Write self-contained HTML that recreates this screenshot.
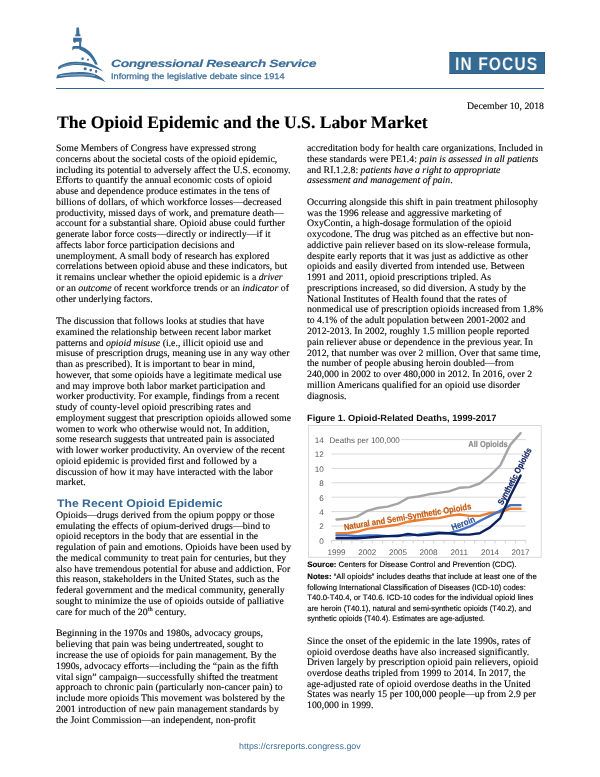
<!DOCTYPE html>
<html><head><meta charset="utf-8">
<style>
*{margin:0;padding:0;box-sizing:border-box}
html,body{width:600px;height:777px;background:#fff;overflow:hidden}
body{position:relative;font-family:"Liberation Serif",serif;color:#111;text-rendering:geometricPrecision}
.a{position:absolute;white-space:nowrap;will-change:transform}
.t{font-size:9.8px;line-height:10.75px;color:#000;-webkit-text-stroke:0.12px #000}
.blue{color:#3b6e9b}
i{font-style:italic}
.sans{font-family:"Liberation Sans",sans-serif}
.ax{font-family:"Liberation Sans",sans-serif;font-size:8.1px;fill:#595959}
.nt{font-family:"Liberation Sans",sans-serif;font-size:7.8px;fill:#000;stroke:#000;stroke-width:0.12px}
.lb{font-family:"Liberation Sans",sans-serif;font-size:8.6px;font-weight:bold;stroke-width:0.2px}
</style></head><body>

<!-- logo -->
<svg class="a" style="left:0;top:0" width="120" height="90" viewBox="0 0 120 90">
<g fill="#3b6e9b">
<path d="M76.5,27.6 L78.9,27.4 L79.3,31 L79.5,34.2 L80.5,34.6 L80.4,36.3 L75.2,36.3 L75.3,34.6 L76.2,34.2 L76.3,31 Z"/>
<path d="M73.1,37.7 L81.7,37.7 L81.7,41.7 L75.9,41.7 L75.5,42.7 L74,42.7 L73.9,41.7 L73.1,41.7 Z"/>
<path d="M79.2,41.5 L81.1,41.5 L81.1,46.4 L79.1,46.4 Z"/>
<path d="M72.2,50.5 L72.3,47.2 Q72.6,46 74,46 L81,46 L81.5,48.8 L74.5,48.8 Q73.3,49.1 72.2,50.5 Z"/>
<path d="M79.3,46.1 C86,47.2 93.8,53.5 97.8,64.8 L95,64.4 C92,57.5 86.5,52.3 79.3,49.6 Z"/>
<path d="M58.4,69.6 L58,67.6 Q58.6,66.4 60,65.6 C64.5,63 69,62 75,61.8 C86,61.5 96.5,64.5 103.2,71.6 C97,68.9 89,65.3 78,65.1 C70,65 63,66.6 58.4,69.6 Z"/>
<path d="M56.4,78.6 C56.6,76.4 57,75.1 57.8,74.7 C64,72.8 72,72 82.5,72 C92,72.2 101,75.2 105.6,82.4 C101,79.2 92,76.9 82.5,76.6 C72,76.4 63,77.1 56.4,78.6 Z"/>
<circle cx="82.6" cy="58.8" r="1.25"/><circle cx="88" cy="59.7" r="1.05"/>
<circle cx="85.2" cy="68.8" r="1.55"/><circle cx="90.7" cy="70.1" r="1.4"/><ellipse cx="96.1" cy="71.5" rx="1.1" ry="1.4"/>
</g>
<path d="M59.5,75.7 C70,74.6 85,74.4 95,75.4" fill="none" stroke="#fff" stroke-width="0.6" opacity="0.85"/>
<path d="M61,67.2 C67,64.5 74,63.4 82,63.4" fill="none" stroke="#fff" stroke-width="0.4" opacity="0.6"/>
</svg>

<div class="a sans blue" style="left:110.5px;top:57.9px;font-size:10.5px;font-weight:bold;font-style:italic;letter-spacing:-0.3px;transform-origin:0 0;transform:scaleX(1.328);-webkit-text-stroke:0.15px #3b6e9b">Congressional Research Service</div>
<div class="a sans blue" style="left:110.5px;top:71px;font-size:8.3px;transform-origin:0 0;transform:scaleX(1.103);-webkit-text-stroke:0.25px #3b6e9b">Informing the legislative debate since 1914</div>
<div class="a" style="left:56px;top:87.8px;width:488px;height:1.3px;background:#2f6391"></div>
<div class="a" style="left:448.5px;top:51.9px;width:95.5px;height:21.8px;background:#356a92;border:0.6px solid #2d6089;border-left-color:#7f8c96"></div>
<div class="a sans" style="left:455.2px;top:52.8px;color:#fff;font-size:18.4px;line-height:21.2px;font-weight:bold;letter-spacing:1.4px;transform-origin:0 0;transform:scaleX(0.84);-webkit-text-stroke:0.08px #356a92">IN FOCUS</div>

<div class="a t" style="right:56.5px;top:101.8px;">December 10, 2018</div>

<div class="a" style="left:56.5px;top:111.5px;font-size:17.65px;font-weight:bold;line-height:20px;color:#000;-webkit-text-stroke:0.15px #000">The Opioid Epidemic and the U.S. Labor Market</div>

<!-- left column -->
<div class="a t" style="left:56.3px;top:144.1px;line-height:10.77px">Some Members of Congress have expressed strong<br>
concerns about the societal costs of the opioid epidemic,<br>
including its potential to adversely affect the U.S. economy.<br>
Efforts to quantify the annual economic costs of opioid<br>
abuse and dependence produce estimates in the tens of<br>
billions of dollars, of which workforce losses—decreased<br>
productivity, missed days of work, and premature death—<br>
account for a substantial share. Opioid abuse could further<br>
generate labor force costs—directly or indirectly—if it<br>
affects labor force participation decisions and<br>
unemployment. A small body of research has explored<br>
correlations between opioid abuse and these indicators, but<br>
it remains unclear whether the opioid epidemic is a <i>driver</i><br>
or an <i>outcome</i> of recent workforce trends or an <i>indicator</i> of<br>
other underlying factors.</div>
<div class="a t" style="left:56.3px;top:316.6px;line-height:10.75px">The discussion that follows looks at studies that have<br>
examined the relationship between recent labor market<br>
patterns and <i>opioid misuse</i> (i.e., illicit opioid use and<br>
misuse of prescription drugs, meaning use in any way other<br>
than as prescribed). It is important to bear in mind,<br>
however, that some opioids have a legitimate medical use<br>
and may improve both labor market participation and<br>
worker productivity. For example, findings from a recent<br>
study of county-level opioid prescribing rates and<br>
employment suggest that prescription opioids allowed some<br>
women to work who otherwise would not. In addition,<br>
some research suggests that untreated pain is associated<br>
with lower worker productivity. An overview of the recent<br>
opioid epidemic is provided first and followed by a<br>
discussion of how it may have interacted with the labor<br>
market.</div>

<div class="a sans" style="left:56.8px;top:496.5px;font-size:11px;font-weight:bold;line-height:14px;color:#336895;transform-origin:0 0;transform:scaleX(1.11)">The Recent Opioid Epidemic</div>

<div class="a t" style="left:56.3px;top:510.8px;line-height:10.74px">Opioids—drugs derived from the opium poppy or those<br>
emulating the effects of opium-derived drugs—bind to<br>
opioid receptors in the body that are essential in the<br>
regulation of pain and emotions. Opioids have been used by<br>
the medical community to treat pain for centuries, but they<br>
also have tremendous potential for abuse and addiction. For<br>
this reason, stakeholders in the United States, such as the<br>
federal government and the medical community, generally<br>
sought to minimize the use of opioids outside of palliative<br>
care for much of the 20<sup style="font-size:6.4px;vertical-align:0;position:relative;top:-3.5px">th</sup> century.</div>
<div class="a t" style="left:56.3px;top:628.8px;line-height:10.89px">Beginning in the 1970s and 1980s, advocacy groups,<br>
believing that pain was being undertreated, sought to<br>
increase the use of opioids for pain management. By the<br>
1990s, advocacy efforts—including the “pain as the fifth<br>
vital sign” campaign—successfully shifted the treatment<br>
approach to chronic pain (particularly non-cancer pain) to<br>
include more opioids This movement was bolstered by the<br>
2001 introduction of new pain management standards by<br>
the Joint Commission—an independent, non-profit</div>

<!-- right column -->
<div class="a t" style="left:307px;top:144.1px;line-height:10.77px">accreditation body for health care organizations. Included in<br>
these standards were PE1.4: <i>pain is assessed in all patients</i><br>
and RI.1.2.8: <i>patients have a right to appropriate</i><br>
<i>assessment and management of pain</i>.<br>
<br>
Occurring alongside this shift in pain treatment philosophy<br>
was the 1996 release and aggressive marketing of<br>
OxyContin, a high-dosage formulation of the opioid<br>
oxycodone. The drug was pitched as an effective but non-<br>
addictive pain reliever based on its slow-release formula,<br>
despite early reports that it was just as addictive as other<br>
opioids and easily diverted from intended use. Between<br>
1991 and 2011, opioid prescriptions tripled. As<br>
prescriptions increased, so did diversion. A study by the<br>
National Institutes of Health found that the rates of<br>
nonmedical use of prescription opioids increased from 1.8%<br>
to 4.1% of the adult population between 2001-2002 and<br>
2012-2013. In 2002, roughly 1.5 million people reported<br>
pain reliever abuse or dependence in the previous year. In<br>
2012, that number was over 2 million. Over that same time,<br>
the number of people abusing heroin doubled—from<br>
240,000 in 2002 to over 480,000 in 2012. In 2016, over 2<br>
million Americans qualified for an opioid use disorder<br>
diagnosis.</div>

<div class="a sans" style="left:307.2px;top:413px;font-size:9px;font-weight:bold;line-height:10px;transform-origin:0 0;transform:scaleX(1.026)">Figure 1. Opioid-Related Deaths, 1999-2017</div>

<!-- CHART START -->
<svg class="a" style="left:0;top:0" width="600" height="777" viewBox="0 0 600 777">
<rect x="308.5" y="425.5" width="232.7" height="131.8" fill="none" stroke="#d9d9d9" stroke-width="1"/>
<line x1="331.4" x2="525.7" y1="526.0" y2="526.0" stroke="#d9d9d9" stroke-width="1"/>
<line x1="331.4" x2="525.7" y1="511.6" y2="511.6" stroke="#d9d9d9" stroke-width="1"/>
<line x1="331.4" x2="525.7" y1="497.2" y2="497.2" stroke="#d9d9d9" stroke-width="1"/>
<line x1="331.4" x2="525.7" y1="482.8" y2="482.8" stroke="#d9d9d9" stroke-width="1"/>
<line x1="331.4" x2="525.7" y1="468.4" y2="468.4" stroke="#d9d9d9" stroke-width="1"/>
<line x1="331.4" x2="525.7" y1="454.0" y2="454.0" stroke="#d9d9d9" stroke-width="1"/>
<line x1="401" x2="525.7" y1="439.6" y2="439.6" stroke="#d9d9d9" stroke-width="1"/>
<line x1="331.4" x2="525.7" y1="540.4" y2="540.4" stroke="#d0d0d0" stroke-width="1"/>
<line x1="331.4" x2="331.4" y1="540.4" y2="543.4" stroke="#d0d0d0" stroke-width="0.9"/>
<line x1="341.6" x2="341.6" y1="540.4" y2="543.4" stroke="#d0d0d0" stroke-width="0.9"/>
<line x1="351.9" x2="351.9" y1="540.4" y2="543.4" stroke="#d0d0d0" stroke-width="0.9"/>
<line x1="362.1" x2="362.1" y1="540.4" y2="543.4" stroke="#d0d0d0" stroke-width="0.9"/>
<line x1="372.3" x2="372.3" y1="540.4" y2="543.4" stroke="#d0d0d0" stroke-width="0.9"/>
<line x1="382.5" x2="382.5" y1="540.4" y2="543.4" stroke="#d0d0d0" stroke-width="0.9"/>
<line x1="392.8" x2="392.8" y1="540.4" y2="543.4" stroke="#d0d0d0" stroke-width="0.9"/>
<line x1="403.0" x2="403.0" y1="540.4" y2="543.4" stroke="#d0d0d0" stroke-width="0.9"/>
<line x1="413.2" x2="413.2" y1="540.4" y2="543.4" stroke="#d0d0d0" stroke-width="0.9"/>
<line x1="423.5" x2="423.5" y1="540.4" y2="543.4" stroke="#d0d0d0" stroke-width="0.9"/>
<line x1="433.7" x2="433.7" y1="540.4" y2="543.4" stroke="#d0d0d0" stroke-width="0.9"/>
<line x1="443.9" x2="443.9" y1="540.4" y2="543.4" stroke="#d0d0d0" stroke-width="0.9"/>
<line x1="454.2" x2="454.2" y1="540.4" y2="543.4" stroke="#d0d0d0" stroke-width="0.9"/>
<line x1="464.4" x2="464.4" y1="540.4" y2="543.4" stroke="#d0d0d0" stroke-width="0.9"/>
<line x1="474.6" x2="474.6" y1="540.4" y2="543.4" stroke="#d0d0d0" stroke-width="0.9"/>
<line x1="484.9" x2="484.9" y1="540.4" y2="543.4" stroke="#d0d0d0" stroke-width="0.9"/>
<line x1="495.1" x2="495.1" y1="540.4" y2="543.4" stroke="#d0d0d0" stroke-width="0.9"/>
<line x1="505.3" x2="505.3" y1="540.4" y2="543.4" stroke="#d0d0d0" stroke-width="0.9"/>
<line x1="515.5" x2="515.5" y1="540.4" y2="543.4" stroke="#d0d0d0" stroke-width="0.9"/>
<line x1="525.8" x2="525.8" y1="540.4" y2="543.4" stroke="#d0d0d0" stroke-width="0.9"/>
<text x="323.7" y="543.8" text-anchor="end" class="ax">0</text>
<text x="323.7" y="529.4" text-anchor="end" class="ax">2</text>
<text x="323.7" y="515.0" text-anchor="end" class="ax">4</text>
<text x="323.7" y="500.6" text-anchor="end" class="ax">6</text>
<text x="323.7" y="486.2" text-anchor="end" class="ax">8</text>
<text x="323.7" y="471.8" text-anchor="end" class="ax">10</text>
<text x="323.7" y="457.4" text-anchor="end" class="ax">12</text>
<text x="323.7" y="443.0" text-anchor="end" class="ax">14</text>
<text x="336.5" y="555.3" text-anchor="middle" class="ax">1999</text>
<text x="367.2" y="555.3" text-anchor="middle" class="ax">2002</text>
<text x="397.9" y="555.3" text-anchor="middle" class="ax">2005</text>
<text x="428.6" y="555.3" text-anchor="middle" class="ax">2008</text>
<text x="459.3" y="555.3" text-anchor="middle" class="ax">2011</text>
<text x="490.0" y="555.3" text-anchor="middle" class="ax">2014</text>
<text x="520.6" y="555.3" text-anchor="middle" class="ax">2017</text>
<text x="329.6" y="442.7" class="ax" textLength="70.2" lengthAdjust="spacingAndGlyphs">Deaths per 100,000</text>
<polyline points="336.5,519.5 346.7,518.8 357.0,516.6 367.2,510.9 377.4,508.0 387.6,506.6 397.9,503.7 408.1,497.9 418.3,496.5 428.6,494.3 438.8,492.9 449.0,491.4 459.3,487.8 469.5,487.1 479.7,483.5 490.0,475.6 500.2,465.5 510.4,444.6 520.6,433.1" fill="none" stroke="#a5a5a5" stroke-width="2.4" stroke-linejoin="round" stroke-linecap="round"/>
<polyline points="336.5,533.2 346.7,533.2 357.0,531.8 367.2,528.9 377.4,527.4 387.6,526.0 397.9,524.6 408.1,521.7 418.3,520.2 428.6,518.8 438.8,518.1 449.0,515.9 459.3,514.5 469.5,515.9 479.7,515.9 490.0,513.0 500.2,512.3 510.4,508.7 520.6,508.7" fill="none" stroke="#ed7d31" stroke-width="2.4" stroke-linejoin="round" stroke-linecap="round"/>
<polyline points="336.5,535.4 346.7,535.4 357.0,536.1 367.2,535.4 377.4,535.4 387.6,536.1 397.9,535.4 408.1,535.4 418.3,534.6 428.6,533.2 438.8,532.5 449.0,533.2 459.3,530.3 469.5,526.7 479.7,521.0 490.0,515.9 500.2,510.9 510.4,505.1 520.6,505.1" fill="none" stroke="#4472c4" stroke-width="2.4" stroke-linejoin="round" stroke-linecap="round"/>
<polyline points="336.5,538.2 346.7,538.2 357.0,538.2 367.2,537.5 377.4,536.8 387.6,536.1 397.9,536.1 408.1,533.9 418.3,535.4 428.6,534.6 438.8,533.2 449.0,533.2 459.3,534.6 469.5,534.6 479.7,533.2 490.0,527.4 500.2,518.1 510.4,495.8 520.6,475.6" fill="none" stroke="#0c1f5e" stroke-width="2.4" stroke-linejoin="round" stroke-linecap="round"/>
<text x="468.3" y="446.9" class="lb" fill="#8c8c8c" stroke="#8c8c8c" textLength="39.3" lengthAdjust="spacingAndGlyphs">All Opioids</text>
<text transform="translate(344.4 530.2) rotate(-9.4)" class="lb" fill="#c55a11" stroke="#c55a11" textLength="128.9" lengthAdjust="spacingAndGlyphs">Natural and Semi-Synthetic Opioids</text>
<text transform="translate(452.7 530.6) rotate(-21.9)" class="lb" fill="#2f5597" stroke="#2f5597" textLength="24.7" lengthAdjust="spacingAndGlyphs">Heroin</text>
<text transform="translate(502.6 505.6) rotate(-62.3)" class="lb" fill="#0c1f5e" stroke="#0c1f5e" textLength="63.1" lengthAdjust="spacingAndGlyphs">Synthetic Opioids</text>
</svg>
<!-- CHART END -->

<svg class="a" style="left:0;top:0" width="600" height="777" viewBox="0 0 600 777">
<text x="307.3" y="566.7" class="nt" textLength="209.3" lengthAdjust="spacingAndGlyphs"><tspan font-weight="bold">Source:</tspan> Centers for Disease Control and Prevention (CDC).</text>
<text x="307.3" y="578.6" class="nt" textLength="229.5" lengthAdjust="spacingAndGlyphs"><tspan font-weight="bold">Notes:</tspan> “All opioids” includes deaths that include at least one of the</text>
<text x="307.3" y="589.9" class="nt" textLength="218.5" lengthAdjust="spacingAndGlyphs">following International Classification of Diseases (ICD-10) codes:</text>
<text x="307.3" y="600.1" class="nt" textLength="226.2" lengthAdjust="spacingAndGlyphs">T40.0-T40.4, or T40.6. ICD-10 codes for the individual opioid lines</text>
<text x="307.3" y="610.9" class="nt" textLength="224.0" lengthAdjust="spacingAndGlyphs">are heroin (T40.1), natural and semi-synthetic opioids (T40.2), and</text>
<text x="307.3" y="620.8" class="nt" textLength="177.6" lengthAdjust="spacingAndGlyphs">synthetic opioids (T40.4). Estimates are age-adjusted.</text>
</svg>

<div class="a t" style="left:307px;top:636.9px;line-height:10.65px">Since the onset of the epidemic in the late 1990s, rates of<br>
opioid overdose deaths have also increased significantly.<br>
Driven largely by prescription opioid pain relievers, opioid<br>
overdose deaths tripled from 1999 to 2014. In 2017, the<br>
age-adjusted rate of opioid overdose deaths in the United<br>
States was nearly 15 per 100,000 people—up from 2.9 per<br>
100,000 in 1999.</div>

<div class="a sans blue" style="left:239.4px;top:740.8px;font-size:8.7px;line-height:10px;transform-origin:0 0;transform:scaleX(1.025)">https://crsreports.congress.gov</div>

</body></html>
